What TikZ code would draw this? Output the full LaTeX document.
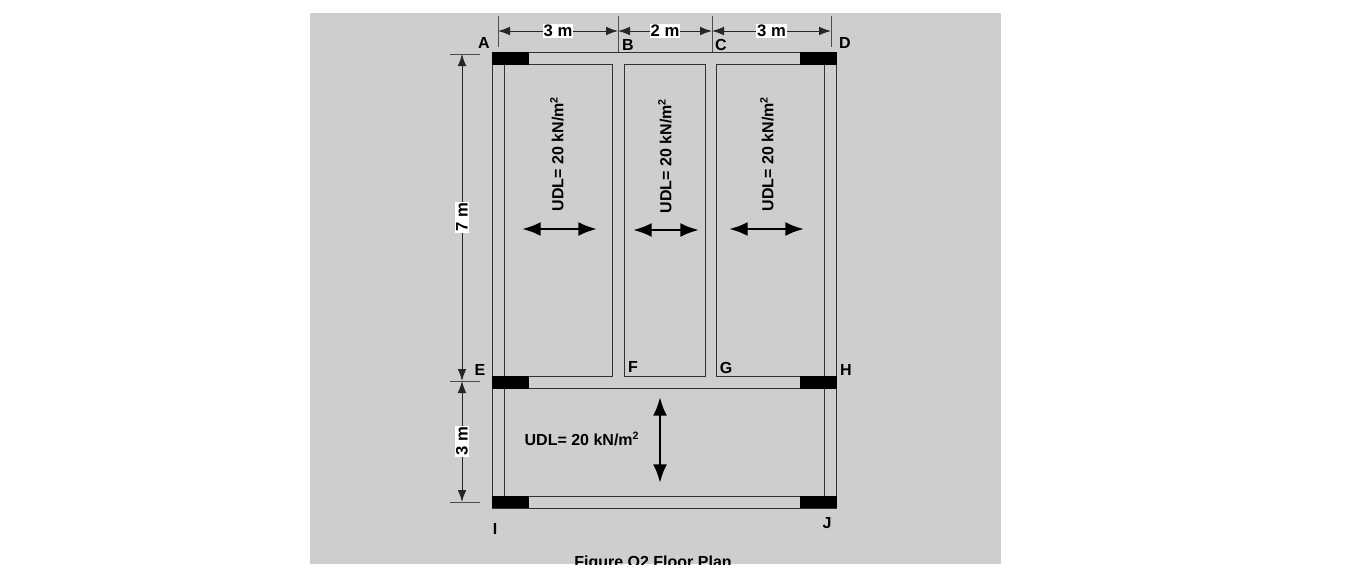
\documentclass[tikz,border=0pt]{standalone}
\usepackage{fontspec}
\setmainfont{Liberation Sans}
\usetikzlibrary{arrows.meta}
\definecolor{panelgray}{RGB}{205,206,208}
\definecolor{wallgray}{RGB}{50,50,50}
\tikzset{
	wall/.style={draw=wallgray,line width=0.7pt},
	column/.style={fill=black,draw=none},
	dimline/.style={draw=black!85,line width=0.75pt,{Latex[length=9pt,width=6.5pt]}-{Latex[length=9pt,width=6.5pt]}},
	extline/.style={draw=black!70,line width=0.7pt},
	span/.style={draw=black,line width=2pt,{Latex[length=14pt,width=10.5pt]}-{Latex[length=14pt,width=10.5pt]}},
	dimtext/.style={fill=white,inner sep=0.8pt,font=\bfseries\fontsize{12.5}{14}\selectfont},
	loadtext/.style={inner sep=0pt,font=\bfseries\fontsize{12}{14}\selectfont},
	jointtext/.style={inner sep=0pt,font=\bfseries\fontsize{12}{14}\selectfont}
}
\begin{document}
\begin{tikzpicture}[x=0.75pt,y=-0.75pt]

	\clip (0,0) rectangle (1360,564);
	\fill[white] (0,0) rectangle (1360,564);
	\fill[panelgray] (310,13) rectangle (1001,564);

	% beams and columns
	\draw[wall] (492,52) rectangle (836,508);
	\draw[wall] (504,64) rectangle (612,376);
	\draw[wall] (624,64) rectangle (705,376);
	\draw[wall] (716,64) rectangle (824,376);
	\draw[wall] (504,388) rectangle (824,496);
	\draw[wall] (504,376) -- (504,388);
	\draw[wall] (824,376) -- (824,388);
	\fill[column] (492,52) rectangle (529,65);
	\fill[column] (800,52) rectangle (837,65);
	\fill[column] (492,375.5) rectangle (529,388.5);
	\fill[column] (800,375.5) rectangle (837,388.5);
	\fill[column] (492,495.5) rectangle (529,508);
	\fill[column] (800,495.5) rectangle (837,508);

	% dimensions along the top
	\coordinate (t1) at (498,31);
	\coordinate (t2) at (618,31);
	\coordinate (t3) at (712,31);
	\coordinate (t4) at (831,31);
	\draw[extline] (498,16) -- (498,47);
	\draw[extline] (618,16) -- (618,52);
	\draw[extline] (712,16) -- (712,52);
	\draw[extline] (831,16) -- (831,47);
	\draw[dimline] (t1) -- node[dimtext] {3 m} (t2);
	\draw[dimline] (t2) -- node[dimtext] {2 m} (t3);
	\draw[dimline] (t3) -- node[dimtext] {3 m} (t4);

	% dimensions on the left
	\coordinate (l1) at (462,54);
	\coordinate (l2) at (462,381);
	\coordinate (l3) at (462,502);
	\draw[extline] (450,54) -- (480,54);
	\draw[extline] (450,381) -- (480,381);
	\draw[extline] (450,502) -- (480,502);
	\draw[dimline] (l1) -- node[dimtext,rotate=90] {7 m} (l2);
	\draw[dimline] (l2) -- node[dimtext,rotate=90] {3 m} (l3);

	% spanning directions
	\coordinate (s1a) at (522,229);
	\coordinate (s1b) at (597,229);
	\coordinate (s2a) at (633,230);
	\coordinate (s2b) at (699,230);
	\coordinate (s3a) at (729,229);
	\coordinate (s3b) at (804,229);
	\coordinate (s4a) at (660,397);
	\coordinate (s4b) at (660,483);
	\draw[span] (s1a) -- (s1b);
	\draw[span] (s2a) -- (s2b);
	\draw[span] (s3a) -- (s3b);
	\draw[span] (s4a) -- (s4b);

	% loads
	\node[loadtext,rotate=90] (udl1) at (557,154) {UDL= 20 kN/m\textsuperscript{2}};
	\node[loadtext,rotate=90] (udl2) at (665,156) {UDL= 20 kN/m\textsuperscript{2}};
	\node[loadtext,rotate=90] (udl3) at (767,154) {UDL= 20 kN/m\textsuperscript{2}};
	\node[loadtext] (udl4) at (582,439) {UDL= 20 kN/m\textsuperscript{2}};

	% joints
	\node[jointtext] (A) at (484,43)  {A};
	\node[jointtext] (B) at (628,45)  {B};
	\node[jointtext] (C) at (721,45)  {C};
	\node[jointtext] (D) at (845,43)  {D};
	\node[jointtext] (E) at (480,370) {E};
	\node[jointtext] (F) at (633,367) {F};
	\node[jointtext] (G) at (726,368) {G};
	\node[jointtext] (H) at (846,370) {H};
	\node[jointtext] (I) at (495,529) {I};
	\node[jointtext] (J) at (827,523) {J};

	\node[loadtext] (caption) at (653,563) {Figure Q2 Floor Plan};

\end{tikzpicture}
\end{document}
